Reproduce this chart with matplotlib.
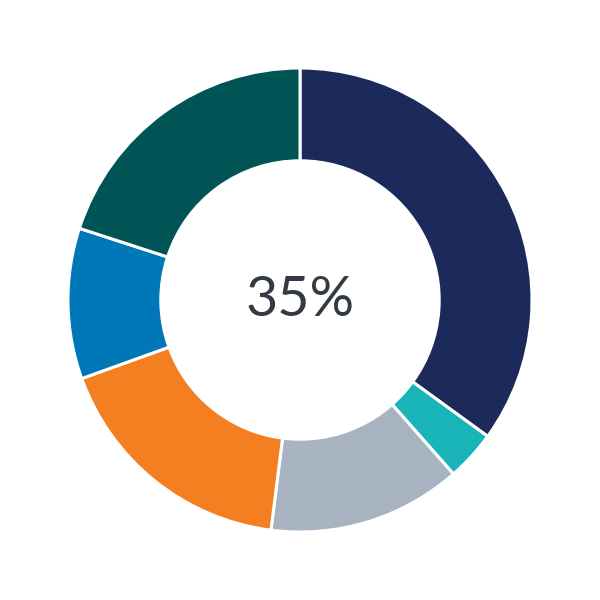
import matplotlib.pyplot as plt

# slice shares, clockwise from the top
labels = ["A", "B", "C", "D", "E", "F"]
values = [35, 3.5, 13.5, 17.5, 10.5, 20]
colors = ["#1B2A5A", "#19B4B8", "#A8B3C1", "#F37F20", "#0077B6", "#005455"]
center_text = "35%"

fig = plt.figure(figsize=(6, 6), dpi=100)
ax = fig.add_axes([0, 0, 1, 1])
ax.pie(values, colors=colors, startangle=90, counterclock=False,
       radius=1.0,
       wedgeprops=dict(width=0.4, edgecolor="white", linewidth=2.2))
ax.text(0, 0, center_text, ha="center", va="center", fontsize=40,
        color="#343a44", family="Lato", fontweight="normal")
lim = 300 / 232
ax.set_xlim(-lim, lim)
ax.set_ylim(-lim, lim)
ax.set_aspect("equal")
ax.axis("off")
fig.savefig("out.png", dpi=100, facecolor="white")
